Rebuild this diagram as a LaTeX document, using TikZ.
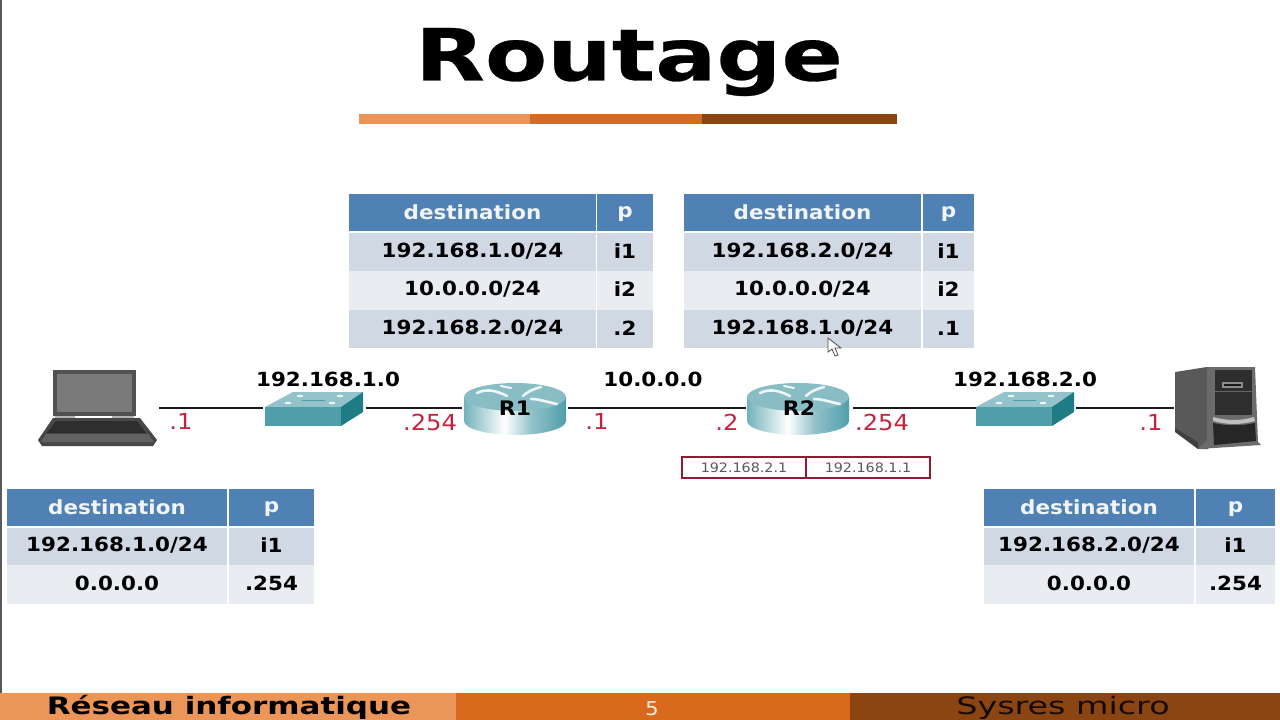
\documentclass[tikz,border=0pt]{standalone}
\usepackage{fontspec}
\setmainfont[FakeStretch=1.1]{DejaVu Sans}
\usetikzlibrary{calc}
\definecolor{barA}{HTML}{EC9558}
\definecolor{barB}{HTML}{D96A1D}
\definecolor{barC}{HTML}{8A4513}
\definecolor{thead}{HTML}{4F81B5}
\definecolor{tdark}{HTML}{D0D8E3}
\definecolor{tlight}{HTML}{E9ECF1}
\definecolor{redlab}{HTML}{C4233F}
\definecolor{swtop}{HTML}{93C2CA}
\definecolor{swfront}{HTML}{4F9FAB}
\definecolor{swside}{HTML}{1E7C85}
\pgfdeclarehorizontalshading{routerside}{100bp}{
  color(0bp)=(swfront!85!black); color(20bp)=(swfront); color(45bp)=(white);
  color(58bp)=(swtop); color(75bp)=(swfront); color(100bp)=(swside!80!black)}
\tikzset{
  every node/.style={inner sep=0pt,outer sep=0pt},
  hcell/.style={fill=thead,text=white!92!thead,font=\fontsize{19.5}{19.5}\selectfont\bfseries},
  dcell/.style={fill=tdark,text=black,font=\fontsize{19.5}{19.5}\selectfont\bfseries},
  lcell/.style={fill=tlight,text=black,font=\fontsize{19.5}{19.5}\selectfont\bfseries},
  netlabel/.style={text=black,font=\fontsize{19.5}{19.5}\selectfont\bfseries},
  hostlabel/.style={text=redlab,font=\fontsize{22}{22}\selectfont},
  wire/.style={line width=2.6pt,black!90},
  ipcell/.style={draw=redlab!75!black,line width=1.3pt,text=black!65,font=\fontsize{13}{13}\selectfont},
}
\newcommand{\bodytext}[1]{\raisebox{1pt}[\height][\depth]{#1}}
\newcommand{\headp}{\raisebox{-2pt}[\height][\depth]{p}}
% \cell{name}{x0}{y0}{x1}{y1}{style}{text}
\newcommand{\cell}[7]{%
  \pgfmathsetmacro{\cw}{#4-#2}\pgfmathsetmacro{\ch}{#5-#3}%
  \pgfmathsetmacro{\ccx}{(#2+#4)/2}\pgfmathsetmacro{\ccy}{(#3+#5)/2}%
  \node[#6,minimum width=\cw pt,minimum height=\ch pt] (#1) at (\ccx,\ccy) {#7};}
\newcommand{\switchicon}[1]{%
  \begin{scope}[xshift=#1pt]
    \fill[swtop] (265,407) -- (293,392) -- (363,392) -- (341,407) -- cycle;
    \fill[swfront] (265,407) -- (341,407) -- (341,426) -- (265,426) -- cycle;
    \fill[swside] (341,407) -- (363,392) -- (363,412) -- (341,426) -- cycle;
    \foreach \a/\b in {288/403,332/403,300/396,340/396}
      \fill[white!85!swtop] (\a,\b) ellipse (3.5 and 1.2);
    \draw[swfront,line width=.8pt] (302,400) -- (325,400);
  \end{scope}}
\newcommand{\routericon}[1]{%
  \begin{scope}[xshift=#1pt]
    \shade[shading=routerside] (-51,397) -- (-51,421) arc[start angle=180,end angle=0,x radius=51,y radius=14] -- (51,397) -- cycle;
    \fill[swtop!85!swfront] (0,397) ellipse (51 and 14);
    \draw[white!85!swtop,line width=2.6pt,line cap=round] (-38,393) .. controls (-28,388) and (-18,391) .. (-8,396);
    \draw[white!85!swtop,line width=2.6pt,line cap=round] (8,396) .. controls (12,392) and (18,389) .. (26,387);
    \draw[white!85!swtop,line width=2.6pt,line cap=round] (16,399) .. controls (24,399) and (32,402) .. (42,404);
    \draw[white!85!swtop,line width=2pt,line cap=round] (-14,386) -- (-4,388);
  \end{scope}}
\begin{document}
\begin{tikzpicture}[x=1pt,y=-1pt]
\useasboundingbox (0,0) rectangle (1280,720);
\fill[white] (0,0) rectangle (1280,720);
\fill[black!65] (0,0) rectangle (1.5,693);

% title
\node (title) at (629,62) {\fontsize{72}{72}\selectfont\addfontfeature{FakeStretch=1.26,FakeBold=0.4}\bfseries Routage};
\cell{ba}{359}{114}{530}{124}{fill=barA}{}
\cell{bb}{530}{114}{702}{124}{fill=barB}{}
\cell{bc}{702}{114}{897}{124}{fill=barC}{}

% table R1
\cell{ah1}{349}{194}{596}{231}{hcell}{destination}
\cell{ah2}{597}{194}{653}{231}{hcell}{\headp}
\cell{aa1}{349}{233}{596}{271}{dcell}{\bodytext{192.168.1.0/24}}
\cell{aa2}{597}{233}{653}{271}{dcell}{\bodytext{i1}}
\cell{ab1}{349}{271}{596}{310}{lcell}{\bodytext{10.0.0.0/24}}
\cell{ab2}{597}{271}{653}{310}{lcell}{\bodytext{i2}}
\cell{ac1}{349}{310}{596}{348}{dcell}{\bodytext{192.168.2.0/24}}
\cell{ac2}{597}{310}{653}{348}{dcell}{\bodytext{.2}}
% table R2
\cell{bh1}{684}{194}{921}{231}{hcell}{destination}
\cell{bh2}{923}{194}{974}{231}{hcell}{\headp}
\cell{ba1}{684}{233}{921}{271}{dcell}{\bodytext{192.168.2.0/24}}
\cell{ba2}{923}{233}{974}{271}{dcell}{\bodytext{i1}}
\cell{bb1}{684}{271}{921}{310}{lcell}{\bodytext{10.0.0.0/24}}
\cell{bb2}{923}{271}{974}{310}{lcell}{\bodytext{i2}}
\cell{bc1}{684}{310}{921}{348}{dcell}{\bodytext{192.168.1.0/24}}
\cell{bc2}{923}{310}{974}{348}{dcell}{\bodytext{.1}}
% table host left
\cell{ch1}{7}{489}{227}{526}{hcell}{destination}
\cell{ch2}{229}{489}{314}{526}{hcell}{\headp}
\cell{ca1}{7}{528}{227}{565}{dcell}{\bodytext{192.168.1.0/24}}
\cell{ca2}{229}{528}{314}{565}{dcell}{\bodytext{i1}}
\cell{cb1}{7}{565}{227}{604}{lcell}{\bodytext{0.0.0.0}}
\cell{cb2}{229}{565}{314}{604}{lcell}{\bodytext{.254}}
% table host right
\cell{dh1}{984}{489}{1194}{526}{hcell}{destination}
\cell{dh2}{1196}{489}{1275}{526}{hcell}{\headp}
\cell{da1}{984}{528}{1194}{565}{dcell}{\bodytext{192.168.2.0/24}}
\cell{da2}{1196}{528}{1275}{565}{dcell}{\bodytext{i1}}
\cell{db1}{984}{565}{1194}{604}{lcell}{\bodytext{0.0.0.0}}
\cell{db2}{1196}{565}{1275}{604}{lcell}{\bodytext{.254}}

% invisible device anchors
\cell{laptop}{37}{370}{159}{446}{}{}
\cell{swa}{263}{390}{366}{426}{}{}
\cell{ra}{462}{382}{568}{434}{}{}
\cell{rb}{746}{382}{853}{434}{}{}
\cell{swb}{976}{390}{1076}{426}{}{}
\cell{server}{1174}{367}{1260}{449}{}{}

% connectors
\draw[wire] (laptop.east) -- (swa.west);
\draw[wire] (swa.east) -- (ra.west);
\draw[wire] (ra.east) -- (rb.west);
\draw[wire] (rb.east) -- (swb.west);
\draw[wire] (swb.east) -- (server.west);

% laptop
\fill[black!68] (53,370) rectangle (136,416);
\fill[black!52] (57,374) rectangle (132,412);
\fill[black!30] (55,416) rectangle (75,419);
\fill[black!30] (112,416) rectangle (134,419);
\fill[black!72] (53,418) -- (140,418) -- (157,440) -- (153,446) -- (42,446) -- (38,440) -- cycle;
\fill[black!82] (56,421) -- (137,421) -- (146,433) -- (47,433) -- cycle;
\fill[black!62] (46,434) -- (148,434) -- (154,442) -- (41,442) -- cycle;

% switches and routers
\switchicon{0}
\switchicon{711}
\routericon{515}
\routericon{798}
\node[font=\fontsize{20}{20}\selectfont\bfseries] (rla) at (515,408) {R1};
\node[font=\fontsize{20}{20}\selectfont\bfseries] (rlb) at (799,408) {R2};

% server
\fill[black!65] (1175,372) -- (1207,367) -- (1208,449) -- (1198,449) -- (1175,430) -- cycle;
\fill[black!75] (1175,428) -- (1198,442) -- (1198,449) -- (1175,432) -- cycle;
\fill[black!58] (1207,367) -- (1255,367) -- (1258,442) -- (1261,445) -- (1198,449) -- (1207,440) -- cycle;
\fill[black!82] (1215,370) rectangle (1252,415);
\fill[black!45] (1222,382) rectangle (1243,388);
\fill[black!90] (1224,384) rectangle (1241,386);
\draw[black!60,line width=.8pt] (1215,391) -- (1252,391);
\fill[black!25] (1213,417) .. controls (1228,421) and (1240,421) .. (1254,417) -- (1255,421) .. controls (1240,425) and (1228,425) .. (1213,421) -- cycle;
\fill[black!85] (1213,423) .. controls (1228,426) and (1240,426) .. (1255,423) -- (1256,441) -- (1214,445) -- cycle;

% labels
\node[netlabel] (na) at (328,379) {192.168.1.0};
\node[netlabel] (nb) at (653,379) {10.0.0.0};
\node[netlabel] (nc) at (1025,379) {192.168.2.0};
\node[hostlabel] (la) at (181,421) {.1};
\node[hostlabel] (lb) at (430,422) {.254};
\node[hostlabel] (lc) at (597,421) {.1};
\node[hostlabel] (ld) at (727,422) {.2};
\node[hostlabel] (le) at (882,422) {.254};
\node[hostlabel] (lf) at (1151,422) {.1};

% small address table
\cell{ipa}{682}{457}{806}{478}{ipcell}{192.168.2.1}
\cell{ipb}{806}{457}{930}{478}{ipcell}{192.168.1.1}

% cursor
\draw[black!70,fill=white,line width=.8pt] (828,338) -- (828,352) -- (832,349) -- (835,356) -- (838,355) -- (835,348) -- (841,348) -- cycle;

% footer
\cell{fa}{0}{693}{456}{720}{fill=barA}{}
\cell{fb}{456}{693}{850}{720}{fill=barB}{}
\cell{fc}{850}{693}{1280}{720}{fill=barC}{}
\node[anchor=base,font=\fontsize{24}{24}\selectfont\addfontfeature{FakeStretch=1.29}\bfseries] (ft) at (229,714) {Réseau informatique};
\node[anchor=base,text=white!85!barA,font=\fontsize{19}{19}\selectfont] (fn) at (652,715) {5};
\node[anchor=base,text=black!85!barC,font=\fontsize{24}{24}\selectfont\addfontfeature{FakeStretch=1.39}] (fs) at (1063,714) {Sysres micro};
\end{tikzpicture}
\end{document}
